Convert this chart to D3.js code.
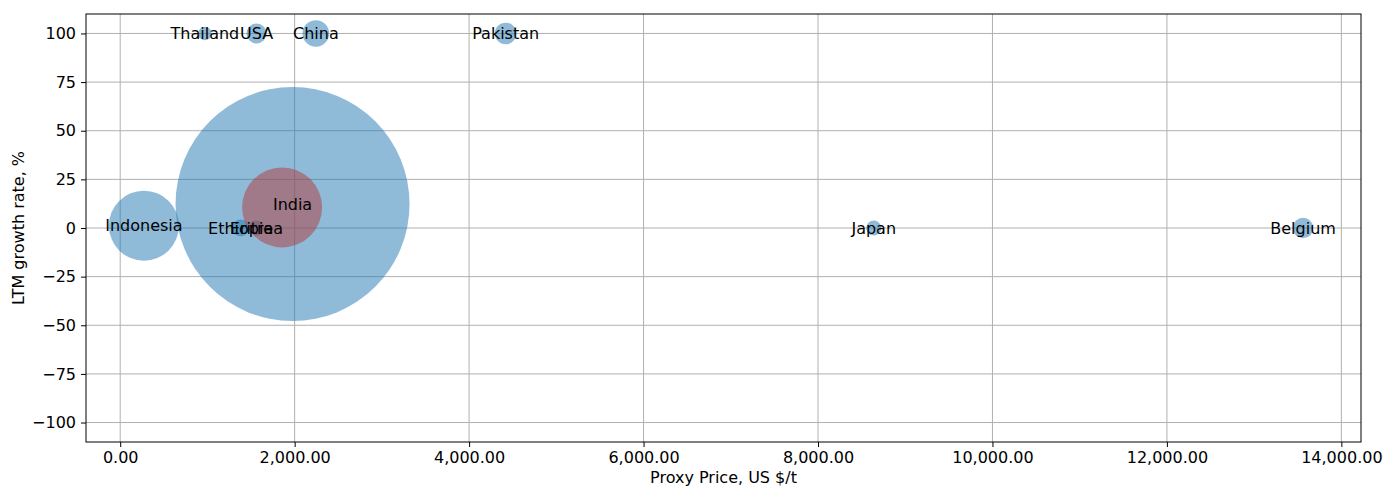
<!DOCTYPE html>
<html>
<head>
<meta charset="utf-8">
<script src="https://cdn.jsdelivr.net/npm/d3@7"></script>
<style>
  body { margin: 0; background: white; }
  text { font-family: "DejaVu Sans", sans-serif; }
</style>
</head>
<body>
<div id="chart"></div>
<script>
// country data
var countries = ["India", "Thailand", "USA", "China", "Pakistan", "Indonesia", "Ethiopia", "Eritrea", "Japan", "Belgium"];
var proxyPrice = [1976, 971, 1563, 2243, 4419, 272, 1381, 1561, 8639, 13561];
var growthRate = [12.3, 100, 100, 100, 100, 1.2, 0, 0, 0, 0];
var volume = [13689, 45, 100, 177, 117, 1225, 72, 56, 56, 104];

// highlighted point (drawn in red on top)
var highlightPrice = [1856];
var highlightGrowth = [10.6];
var highlightVolume = [1600];

var xTicks = [0, 2000, 4000, 6000, 8000, 10000, 12000, 14000];
var yTicks = [-100, -75, -50, -25, 0, 25, 50, 75, 100];

var width = 1386, height = 486;
var margin = {left: 86, right: 25, top: 14, bottom: 44};
var fontSize = "16px";

var svg = d3.select("#chart")
  .append("svg")
    .attr("width", width)
    .attr("height", height);

var x = d3.scaleLinear()
  .domain([-392, 14225])
  .range([margin.left, width - margin.right]);

var y = d3.scaleLinear()
  .domain([-110, 110])
  .range([height - margin.bottom, margin.top]);

var r = d3.scaleSqrt()
  .domain([0, 13689])
  .range([0, 117]);

var fmt = d3.format(",.2f");
var minus = function(v){ return v < 0 ? "\u2212" + Math.abs(v) : "" + v; };

// grid lines
svg.append("g").selectAll("line")
  .data(xTicks)
  .enter().append("line")
    .attr("x1", d => x(d)).attr("x2", d => x(d))
    .attr("y1", margin.top).attr("y2", height - margin.bottom)
    .attr("stroke", "#b0b0b0").attr("stroke-width", 1);
svg.append("g").selectAll("line")
  .data(yTicks)
  .enter().append("line")
    .attr("y1", d => y(d)).attr("y2", d => y(d))
    .attr("x1", margin.left).attr("x2", width - margin.right)
    .attr("stroke", "#b0b0b0").attr("stroke-width", 1);

var points = countries.map(function(c, i){
  return {name: c, x: proxyPrice[i], y: growthRate[i], v: volume[i]};
});

svg.append("g").selectAll("circle")
  .data(points)
  .enter().append("circle")
    .attr("cx", d => x(d.x))
    .attr("cy", d => y(d.y))
    .attr("r", d => r(d.v))
    .attr("fill", "#1f77b4")
    .attr("fill-opacity", 0.5);

svg.append("g").selectAll("circle")
  .data(highlightPrice)
  .enter().append("circle")
    .attr("cx", d => x(d))
    .attr("cy", (d, i) => y(highlightGrowth[i]))
    .attr("r", (d, i) => r(highlightVolume[i]))
    .attr("fill", "#b13937")
    .attr("fill-opacity", 0.5);

// country labels centred on the points
svg.append("g").selectAll("text")
  .data(points)
  .enter().append("text")
    .attr("x", d => x(d.x))
    .attr("y", d => y(d.y))
    .attr("text-anchor", "middle")
    .attr("dominant-baseline", "central")
    .style("font-size", fontSize)
    .text(d => d.name);

// axes
var xAxis = svg.append("g")
  .attr("transform", "translate(0," + (height - margin.bottom) + ")")
  .call(d3.axisBottom(x).tickValues(xTicks).tickFormat(fmt).tickSizeOuter(0).tickSize(5).tickPadding(5));
var yAxis = svg.append("g")
  .attr("transform", "translate(" + margin.left + ",0)")
  .call(d3.axisLeft(y).tickValues(yTicks).tickFormat(minus).tickSizeOuter(0).tickSize(5).tickPadding(5));

[xAxis, yAxis].forEach(function(a){
  a.select(".domain").remove();
  a.selectAll("text").style("font-size", fontSize).attr("fill", "black").style("font-family", "DejaVu Sans");
  a.selectAll("line").attr("stroke", "black");
});

// frame
svg.append("rect")
  .attr("x", margin.left).attr("y", margin.top)
  .attr("width", width - margin.right - margin.left)
  .attr("height", height - margin.bottom - margin.top)
  .attr("fill", "none").attr("stroke", "black").attr("stroke-width", 1);

svg.append("text")
  .attr("x", (margin.left + width - margin.right) / 2)
  .attr("y", 483)
  .attr("text-anchor", "middle")
  .style("font-size", fontSize)
  .text("Proxy Price, US $/t");

svg.append("text")
  .attr("transform", "translate(24," + (margin.top + height - margin.bottom) / 2 + ") rotate(-90)")
  .attr("text-anchor", "middle")
  .style("font-size", fontSize)
  .text("LTM growth rate, %");
</script>
</body>
</html>
